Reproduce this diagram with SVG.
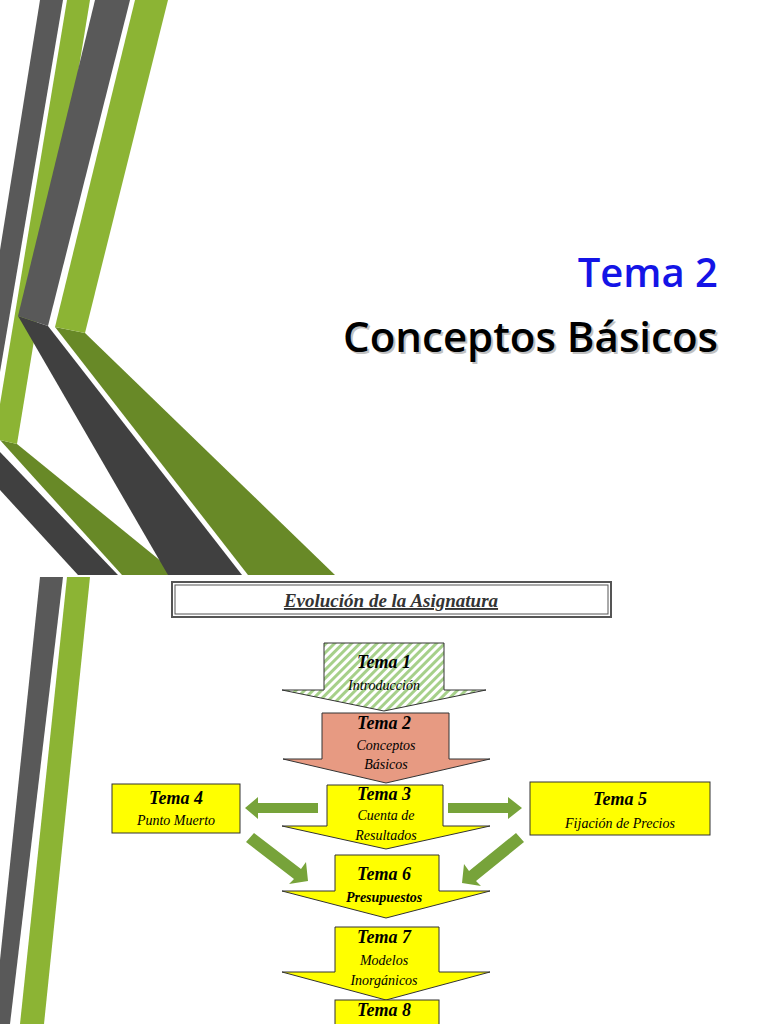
<svg xmlns="http://www.w3.org/2000/svg" width="768" height="1024" viewBox="0 0 768 1024">
<defs>
<pattern id="hatch" width="6" height="6" patternUnits="userSpaceOnUse" patternTransform="rotate(45)">
<rect width="6" height="6" fill="#ffffff"/><rect width="3" height="6" fill="#a6d08a"/>
</pattern>
<style>
.dk{fill:#595959}.dk2{fill:#404040}.gr{fill:#8cb434}.gr2{fill:#688927}
.arr{stroke:#333;stroke-width:1}
.t{font-family:"Liberation Serif",serif;font-style:italic;text-anchor:middle;fill:#000}
.h{font-weight:bold;font-size:18px}
.s{font-size:14px}
.ga{fill:#77a33a}
</style>
</defs>
<rect width="768" height="1024" fill="#fff"/>
<g id="stripes-top">
<polygon class="dk2" points="0,452 0,490 78,575 118,575"/>
<polygon class="gr2" points="0,440 17,444 178,575 122,575"/>
<polygon class="dk" points="40,0 63,0 0,372 0,250"/>
<polygon class="gr" points="67,0 90,0 17,444 0,440 0,404"/>
<polygon class="dk2" points="18,316 48,326 242,575 168,575"/>
<polygon class="dk" points="95,0 130,0 48,326 18,316"/>
<polygon class="gr2" points="55,327 85,333 335,575 248,575"/>
<polygon class="gr" points="135,0 168,0 85,333 55,327"/>
</g>
<g id="title">
<text x="718" y="287" font-family="Open Sans,sans-serif" font-weight="600" font-size="40" fill="#1414e6" text-anchor="end">Tema 2</text>
<text x="720" y="354" font-family="Open Sans,sans-serif" font-weight="600" font-size="42" fill="#999" text-anchor="end" opacity="0.6">Conceptos Básicos</text>
<text x="718" y="352" font-family="Open Sans,sans-serif" font-weight="600" font-size="42" fill="#000" text-anchor="end">Conceptos Básicos</text>
</g>
<g id="stripes-bottom">
<polygon class="dk" points="40,577 63,577 10,1024 0,1024 0,960"/>
<polygon class="gr" points="67,577 90,577 44,1024 20,1024"/>
</g>
<g id="header">
<rect x="172" y="582" width="439" height="35" fill="#fff" stroke="#555" stroke-width="2"/>
<rect x="175" y="585" width="433" height="29" fill="none" stroke="#555" stroke-width="1"/>
<text x="391" y="607" font-family="Liberation Serif,serif" font-style="italic" font-weight="bold" font-size="19" fill="#333" text-anchor="middle" text-decoration="underline">Evolución de la Asignatura</text>
</g>
<g id="connectors">
<polygon class="ga" points="318,803 258,803 258,797 245,808 258,819 258,813 318,813"/>
<polygon class="ga" points="448,803 508,803 508,797 522,808 508,819 508,813 448,813"/>
<polygon class="ga" points="254,833 246,842 294,879 289,884 308,881 306,862 301,869"/>
<polygon class="ga" points="516,833 524,842 476,881 481,886 462,883 464,864 469,871"/>
</g>
<g id="tema1">
<polygon class="arr" fill="url(#hatch)" points="324,643 444,643 444,690 486,690 384,711 282,690 324,690"/>
<text class="t h" x="384" y="668">Tema 1</text><text class="t s" x="384" y="690">Introducción</text>
</g>
<g id="tema2">
<polygon class="arr" fill="#e79a82" points="322,713 449,713 449,759 490,759 386,783 283,759 322,759"/>
<text class="t h" x="384" y="729">Tema 2</text><text class="t s" x="386" y="750">Conceptos</text><text class="t s" x="386" y="769">Básicos</text>
</g>
<g id="tema3">
<polygon class="arr" fill="#ffff00" points="327,785 443,785 443,826 490,826 386,849 282,826 327,826"/>
<text class="t h" x="384" y="800">Tema 3</text><text class="t s" x="386" y="820">Cuenta de</text><text class="t s" x="386" y="840">Resultados</text>
</g>
<g id="tema4">
<rect x="112" y="784" width="128" height="49" fill="#ffff00" stroke="#333"/>
<text class="t h" x="176" y="804">Tema 4</text><text class="t s" x="176" y="825">Punto Muerto</text>
</g>
<g id="tema5">
<rect x="530" y="782" width="180" height="53" fill="#ffff00" stroke="#333"/>
<text class="t h" x="620" y="805">Tema 5</text><text class="t s" x="620" y="828">Fijación de Precios</text>
</g>
<g id="tema6">
<polygon class="arr" fill="#ffff00" points="335,855 439,855 439,891 490,891 386,918 282,891 335,891"/>
<text class="t h" x="384" y="880">Tema 6</text><text class="t s" x="384" y="902" font-weight="bold">Presupuestos</text>
</g>
<g id="tema7">
<polygon class="arr" fill="#ffff00" points="335,927 439,927 439,972 490,972 386,1000 282,972 335,972"/>
<text class="t h" x="384" y="943">Tema 7</text><text class="t s" x="384" y="965">Modelos</text><text class="t s" x="384" y="985">Inorgánicos</text>
</g>
<g id="tema8">
<rect x="335" y="1000" width="104" height="30" fill="#ffff00" stroke="#333"/>
<text class="t h" x="384" y="1016">Tema 8</text>
</g>
</svg>
